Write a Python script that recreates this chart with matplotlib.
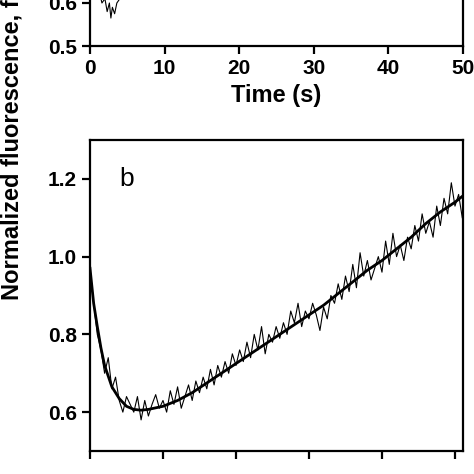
import matplotlib.pyplot as plt
import numpy as np

plt.rcParams['font.family'] = ['Liberation Sans', 'DejaVu Sans']
plt.rcParams['font.weight'] = 'bold'

# top panel (mostly cropped): short visible part of the trace
top_t = [1.2, 1.6, 2.0, 2.3, 2.6, 2.8, 3.0, 3.3, 3.6, 4.0, 4.5]
top_f = [0.63, 0.60, 0.61, 0.58, 0.60, 0.565, 0.59, 0.575, 0.60, 0.61, 0.62]

# panel b: raw trace
b_t = [i * 0.5 for i in range(103)]
b_f = [0.97, 0.88, 0.80, 0.76, 0.70, 0.74, 0.66, 0.69, 0.63, 0.60, 0.64, 0.62, 0.60, 0.64,
       0.58, 0.63, 0.59, 0.62, 0.645, 0.61, 0.63, 0.60, 0.655, 0.62, 0.665, 0.61, 0.64, 0.67,
       0.63, 0.68, 0.65, 0.69, 0.66, 0.71, 0.67, 0.72, 0.69, 0.73, 0.70, 0.75, 0.72, 0.76,
       0.73, 0.78, 0.74, 0.80, 0.76, 0.82, 0.75, 0.80, 0.78, 0.82, 0.79, 0.83, 0.80, 0.86,
       0.83, 0.88, 0.82, 0.86, 0.84, 0.88, 0.85, 0.81, 0.87, 0.84, 0.90, 0.88, 0.93, 0.89,
       0.95, 0.91, 0.98, 0.92, 1.01, 0.95, 0.99, 0.94, 0.97, 1.00, 0.96, 1.04, 0.98, 1.06,
       1.00, 1.03, 0.99, 1.05, 1.02, 1.08, 1.04, 1.11, 1.06, 1.09, 1.05, 1.13, 1.08, 1.15,
       1.11, 1.19, 1.13, 1.16, 1.10]

# panel b: fitted curve
fit_t = [0, 0.5, 1, 1.5, 2, 3, 4, 5, 6, 7, 8, 10, 12, 14, 16, 18, 20, 22, 24, 26, 28,
         30, 32, 34, 36, 38, 40, 42, 44, 46, 48, 50, 51]
fit_f = [0.97, 0.88, 0.82, 0.765, 0.72, 0.665, 0.635, 0.615, 0.607, 0.605, 0.607, 0.615,
         0.63, 0.65, 0.675, 0.70, 0.725, 0.75, 0.775, 0.80, 0.825, 0.85, 0.875, 0.905,
         0.935, 0.965, 0.99, 1.02, 1.05, 1.085, 1.115, 1.14, 1.155]

fig = plt.figure(figsize=(4.74, 4.74), dpi=100)
W = 474.0


def frame(ax):
    for s in ax.spines.values():
        s.set_linewidth(1.6)
    ax.tick_params(direction='out', length=6, width=1.6, labelsize=15)
    ax.set_xlim(0, 51.1)
    ax.set_xticks([0, 10, 20, 30, 40, 50])


# top panel, only its bottom edge is inside the picture
ax1 = fig.add_axes([90 / W, 1 - 46 / W, 373 / W, 344 / W])
ax1.plot(top_t, top_f, color='black', lw=0.8)
frame(ax1)
ax1.set_xlim(0, 50)
ax1.set_ylim(0.5, 1.3)
ax1.set_yticks([0.5, 0.6, 0.7])
ax1.set_yticklabels(['0.5', '0.6', '0.7'])
ax1.set_xlabel('Time (s)', fontsize=17, fontweight='bold', labelpad=4)

# panel b
ax2 = fig.add_axes([90 / W, 1 - 451 / W, 373 / W, 311 / W])
ax2.plot(b_t, b_f, color='black', lw=0.8)
ax2.plot(fit_t, fit_f, color='black', lw=2)
frame(ax2)
ax2.set_ylim(0.5, 1.3)
ax2.set_yticks([0.6, 0.8, 1.0, 1.2])
ax2.set_yticklabels(['0.6', '0.8', '1.0', '1.2'])
ax2.set_xticklabels([''] * 6)
ax2.text(4.0, 1.2, 'b', fontsize=19, fontweight='normal', va='center')

fig.text(12 / W, 1 - 300 / W, 'Normalized fluorescence, f', rotation=90,
         fontsize=17, fontweight='bold', ha='center', va='bottom')

fig.savefig('out.png', dpi=100)
